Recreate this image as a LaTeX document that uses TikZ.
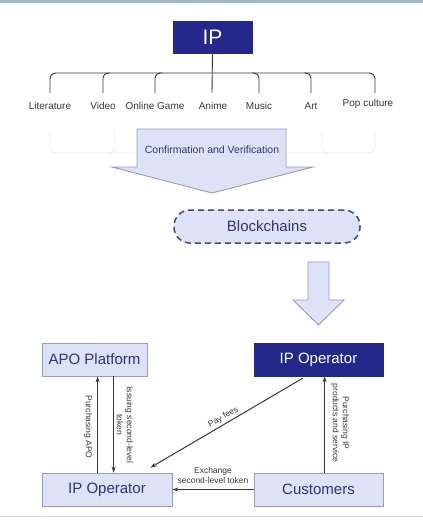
\documentclass[tikz,border=0pt]{standalone}
\usepackage{fontspec}
\setmainfont{Liberation Sans}
\usetikzlibrary{arrows.meta,calc}
\definecolor{navy}{RGB}{36,40,138}
\definecolor{lav}{RGB}{222,226,247}
\definecolor{edgec}{RGB}{150,156,190}
\definecolor{tnavy}{RGB}{45,55,110}
\definecolor{linec}{RGB}{55,55,55}
\definecolor{topline}{RGB}{160,182,198}
\tikzset{
  darkbox/.style={fill=navy,draw=navy,text=white,inner sep=0pt,font=\fontsize{15}{18}\selectfont},
  lightbox/.style={fill=lav,draw=edgec,line width=0.8pt,text=tnavy,inner sep=0pt,font=\fontsize{15}{18}\selectfont},
  leaf/.style={text=linec,inner sep=0pt,font=\fontsize{10}{12}\selectfont},
  tree/.style={draw=linec,line width=0.9pt},
  conn/.style={draw=linec,line width=1pt,-{Stealth[length=6pt,width=4pt]}},
  elabel/.style={text=linec,inner sep=1pt,font=\fontsize{8.5}{10}\selectfont,align=center},
  blockarrow/.style={fill=lav,draw=edgec,line width=0.9pt,line join=miter},
  faint/.style={draw=gray!15,line width=0.9pt},
}
\begin{document}
\begin{tikzpicture}[x=1pt,y=-1pt]
\useasboundingbox (0,0) rectangle (423,531);
\fill[white] (0,0) rectangle (423,531);
\fill[topline] (0,0) rectangle (423,3);
\draw[gray!30,line width=0.8pt] (0,516) -- (423,516);

% top IP node
\node[darkbox,minimum width=79pt,minimum height=32pt,font=\fontsize{21}{24}\selectfont] (ip) at (212.5,37) {IP};

% leaves
\node[leaf] (lit) at (50,106) {Literature};
\node[leaf] (vid) at (103,106) {Video};
\node[leaf] (game) at (155,106) {Online Game};
\node[leaf] (anime) at (213,106) {Anime};
\node[leaf] (music) at (259,106) {Music};
\node[leaf] (art) at (311,106) {Art};
\node[leaf] (pop) at (368,104) {Pop culture};

% tree
\draw[tree] (ip.south) -- (212,93);
\draw[tree,rounded corners=6] (50,93) |- (212,73) -| (375,93);
\draw[tree,rounded corners=5] (110,73) -| (103,93);
\draw[tree,rounded corners=5] (162,73) -| (155,93);
\draw[tree,rounded corners=5] (252,73) -| (259,93);
\draw[tree,rounded corners=5] (304,73) -| (311,93);

% faint under-brackets
\draw[faint,rounded corners=5] (50,131) |- (212,153) -| (375,131);
\draw[faint,rounded corners=5] (108,153) -| (115,131);
\draw[faint,rounded corners=5] (329,153) -| (322,131);

% big block arrow
\draw[blockarrow] (137,129) -- (286,129) -- (286,167) -- (313,167) -- (212,193) -- (112,167) -- (137,167) -- cycle;
\node[text=tnavy,inner sep=0pt,font=\fontsize{10.5}{12}\selectfont] (conf) at (212,150) {Confirmation and Verification};

% blockchains
\node[fill=lav,draw={rgb,255:red,70;green,75;blue,110},line width=1.5pt,dash pattern=on 6pt off 4pt,rounded corners=16pt,minimum width=186pt,minimum height=33pt,inner sep=0pt,text=tnavy,font=\fontsize{15}{18}\selectfont] (bc) at (267,226.5) {Blockchains};

% second block arrow
\draw[blockarrow] (308,262) -- (329,262) -- (329,300) -- (344,300) -- (318.5,325) -- (293,300) -- (308,300) -- cycle;

% bottom nodes
\node[lightbox,minimum width=105pt,minimum height=33pt] (apo) at (94.5,359.5) {APO Platform};
\node[darkbox,minimum width=129pt,minimum height=33pt] (opR) at (318.5,359.5) {IP Operator};
\node[lightbox,minimum width=130pt,minimum height=33pt] (opL) at (107,489.5) {IP Operator};
\node[lightbox,minimum width=129pt,minimum height=33pt] (cust) at (318.5,489.5) {Customers};

% connectors
\coordinate (a1) at ([xshift=56pt]opL.north west);
\draw[conn] (a1) -- (a1 |- apo.south);
\node[elabel,rotate=-90] (l1) at (88,427) {Purchasing APO};

\coordinate (a2) at ([xshift=72pt]apo.south west);
\draw[conn] (a2) -- (a2 |- opL.north);
\node[elabel,rotate=-90] (l2) at (125,425) {Issuing second-level\\token};

\coordinate (a3s) at ([xshift=49pt,yshift=-2pt]opR.south west);
\coordinate (a3e) at ([xshift=-22pt,yshift=5pt]opL.north east);
\draw[conn] (a3s) -- node[elabel,sloped,above=1pt] (l3) {Pay fees} (a3e);

\draw[conn] (cust.west) -- (opL.east);
\node[elabel] (l4) at (213,475) {Exchange\\second-level token};

\coordinate (a5) at ([xshift=71pt]cust.north west);
\draw[conn] (a5) -- (a5 |- opR.south);
\node[elabel,rotate=-90] (l5) at (340,423) {Purchasing IP\\products and service};
\end{tikzpicture}
\end{document}
